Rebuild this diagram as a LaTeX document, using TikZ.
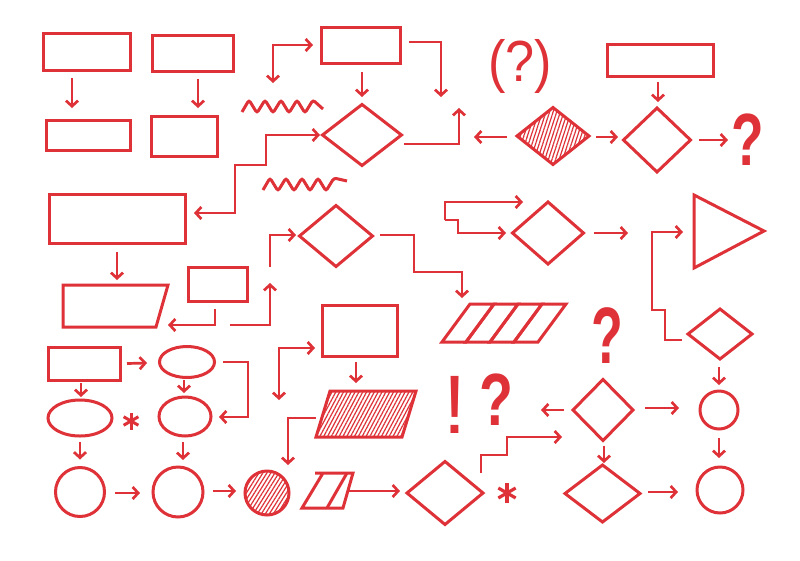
\documentclass[tikz,border=0pt]{standalone}
\usepackage{fontspec}
\newfontfamily\qfont{Liberation Sans}
\usetikzlibrary{shapes.geometric,arrows.meta,calc,patterns.meta}
\definecolor{rd}{RGB}{222,50,56}
\tikzset{
  shp/.style={draw=rd, line width=3pt, inner sep=0pt, outer sep=0pt},
  dia/.style={shp, diamond},
  ell/.style={shp, ellipse},
  circ/.style={shp, circle},
  con/.style={draw=rd, line width=2.7pt},
  arr/.style={con, -{Straight Barb[length=5.5pt,width=12pt]}},
  darr/.style={con, {Straight Barb[length=5.5pt,width=12pt]}-{Straight Barb[length=5.5pt,width=12pt]}},
  hatch/.style={pattern={Lines[angle=#1,distance=3.4pt,line width=1.2pt]}, pattern color=rd},
  mk/.style={text=rd, inner sep=0pt, outer sep=0pt},
  zig/.style={con, line width=3pt, rounded corners=2.5pt}
}
\begin{document}
\begin{tikzpicture}[x=1pt,y=-1pt]
\useasboundingbox[fill=white] (0,0) rectangle (800,560);
% ---------- nodes ----------
\node[shp, minimum width=87pt, minimum height=37pt] (A) at (86.5,51.5) {};
\node[shp, minimum width=81pt, minimum height=36pt] (B) at (192.5,53) {};
\node[shp, minimum width=84pt, minimum height=30pt] (C) at (88,135) {};
\node[shp, minimum width=66pt, minimum height=40pt] (D) at (184,136) {};
\node[shp, minimum width=79pt, minimum height=36pt] (E) at (360.5,45) {};
\node[dia, minimum width=79pt, minimum height=61pt] (F) at (362,135) {};
\node[shp, minimum width=106pt, minimum height=32pt] (G) at (660,60) {};
\node[dia, minimum width=67pt, minimum height=64pt] (H) at (657,140) {};
\node[dia, hatch=72, minimum width=72pt, minimum height=57pt] (I) at (553,136) {};
\node[shp, minimum width=136pt, minimum height=49pt] (J) at (117,218.5) {};
\node[shp, minimum width=59pt, minimum height=34pt] (L) at (217.5,284) {};
\node[dia, minimum width=73pt, minimum height=61pt] (M) at (336,236) {};
\node[shp, minimum width=75pt, minimum height=51pt] (N) at (359.5,330.5) {};
\node[dia, minimum width=71pt, minimum height=62pt] (O) at (548,233) {};
\node[dia, minimum width=64pt, minimum height=50pt] (Q) at (720,334) {};
\node[shp, minimum width=72pt, minimum height=33pt] (S) at (84,363.5) {};
\node[ell, minimum width=55pt, minimum height=31pt] (T) at (187,362) {};
\node[ell, minimum width=64pt, minimum height=36pt] (U) at (80,418) {};
\node[ell, minimum width=52pt, minimum height=39pt] (V) at (185,416.5) {};
\node[circ, minimum size=49pt] (W) at (80,492) {};
\node[circ, minimum size=50pt] (X) at (178,492) {};
\node[circ, hatch=58, minimum size=44pt] (Y) at (267,493) {};
\node[dia, minimum width=60pt, minimum height=61pt] (AA) at (603,410) {};
\node[circ, minimum size=38pt] (AB) at (719,410) {};
\node[circ, minimum size=46pt] (AC) at (720,490) {};
\node[dia, minimum width=75pt, minimum height=57pt] (AD) at (602.5,493.5) {};
\node[dia, minimum width=76pt, minimum height=63pt] (AE) at (445,493) {};
% polygon shapes
\coordinate (K) at (112,306);
\draw[shp, line join=miter] (63,285) -- (168,285) -- (156,327) -- (63,327) -- cycle;
\coordinate (P) at (717,231);
\draw[shp, line join=miter] (694,195) -- (764,231) -- (694,268) -- cycle;
\coordinate (R) at (504,323);
\foreach \b in {442,466,490,514}{
  \draw[shp] (\b,342) -- (\b+24,342) -- (\b+52,304) -- (\b+28,304) -- cycle;
}
\coordinate (Z) at (366,414);
\draw[shp, hatch=62] (330,391) -- (416,391) -- (402,437) -- (316,437) -- cycle;
\coordinate (ZZ) at (328,490);
\draw[shp] (315,473) -- (353,473) -- (343,508) -- (302,508) -- (323,473);
\draw[shp] (327,508) -- (347,473);
% ---------- text marks ----------
\node[mk, font=\qfont\fontsize{58}{58}\selectfont] (paren) at (520,66) {\scalebox{0.9}[1]{(?)}};
\node[mk, font=\qfont\bfseries\fontsize{74}{74}\selectfont] (q1) at (748,140) {\scalebox{0.72}[1]{?}};
\node[mk, font=\qfont\bfseries\fontsize{80}{80}\selectfont] (q2) at (607,336) {\scalebox{0.65}[1]{?}};
\node[mk, font=\qfont\bfseries\fontsize{74}{74}\selectfont] (q3) at (496,400) {\scalebox{0.75}[1]{?}};
\node[mk, font=\qfont\fontsize{83}{83}\selectfont] (ex) at (455,405) {!};
\coordinate (st1) at (131,421);
\coordinate (st2) at (507,493);
\foreach \a in {90,30,150}{
  \draw[con, line width=3pt] ($(st1)+(\a:8.5)$) -- ($(st1)+(\a+180:8.5)$);
  \draw[con, line width=3.2pt] ($(st2)+(\a:10)$) -- ($(st2)+(\a+180:10)$);
}
% zigzags
\draw[zig] (242,112) -- (249,100) -- (257,113) -- (265,100) -- (273,113) -- (281,100) -- (289,113) -- (297,100) -- (305,113) -- (313,100) -- (323,109);
\draw[zig] (263,190) -- (270,178) -- (278,191) -- (286,178) -- (294,191) -- (302,178) -- (310,191) -- (318,178) -- (326,191) -- (334,178) -- (347,181);
% ---------- connectors ----------
\draw[arr] ($(A.south)+(-14.5,8)$) -- ($(C.north)+(-16,-12)$);
\draw[arr] ($(B.south)+(5.5,8)$) -- ($(D.north)+(14,-8)$);
\draw[darr] ($(E.west)+(-48,38)$) |- ($(E.west)+(-8,0)$);
\draw[arr] ($(E.south)+(1.5,9)$) -- ($(F.north)+(0,-7.5)$);
\coordinate (e5) at (441,97);
\draw[arr] ($(E.east)+(9,-3)$) -| (e5);
\coordinate (e6) at (459,108);
\draw[arr] ($(F.east)+(2.5,9)$) -| (e6);
\draw[darr] ($(J.east)+(9,-5.5)$) -- (235,213) -- (235,165) -- (266,165) -- (266,135) -- ($(F.west)+(-2.5,0)$);
\coordinate (e8) at (474,137);
\draw[arr] ($(I.west)+(-10,1)$) -- (e8);
\draw[arr] ($(I.east)+(7,1)$) -- ($(H.west)+(-5.5,-3)$);
\draw[arr] ($(H.east)+(8.5,0)$) -- ($(q1)+(-20,0)$);
\draw[arr] ($(G.south)+(-2,6)$) -- ($(H.north)+(1,-6)$);
\draw[arr] ($(J.south)+(0,9)$) -- ($(K)+(5,-26)$);
\draw[arr] ($(L.south)+(-2.5,8)$) |- ($(K)+(56,19)$);
\draw[arr] ($(L.south)+(12.5,24)$) -| ($(L.south)+(52.5,-18)$);
\draw[arr] ($(L.east)+(23,-17)$) |- ($(M.west)+(-3.5,-1)$);
\draw[arr] ($(M.east)+(7.5,-1)$) -- (414,235) -- (414,272) -- (462,272) -- ($(R)+(-42,-25)$);
\coordinate (s17) at (445,220);
\draw[arr] (s17) |- ($(O.north)+(-25,0)$);
\draw[arr] (s17) -- (458,220) -- (458,233) -- ($(O.west)+(-6.5,0)$);
\coordinate (e18) at (628,233);
\draw[arr] ($(O.east)+(10.5,0)$) -- (e18);
\draw[arr] ($(Q.west)+(-6,6)$) -- (665,340) -- (665,310) -- (652,310) |- ($(P)+(-34,1)$);
\draw[arr] ($(Q.south)+(-1,8)$) -- ($(AB.north)+(0,-6)$);
\draw[arr] ($(AB.south)+(0,9)$) -- ($(AC.north)+(-1,-9)$);
\coordinate (e22) at (541,410);
\draw[arr] ($(AA.west)+(-9,0)$) -- (e22);
\draw[arr] ($(AA.east)+(12,-2)$) -- ($(AB.west)+(-21,-2)$);
\draw[arr] ($(AA.south)+(1,5)$) -- ($(AD.north)+(1.5,-2)$);
\draw[arr] ($(AD.east)+(8,-1.5)$) -- ($(AC.west)+(-19,2)$);
\draw[arr] ($(AE.east)+(-2,-20)$) -- (481,455) -- (507,455) -- (507,437) -- ($(AA.west)+(-11,27)$);
\draw[arr] ($(S.east)+(7,0)$) -- ($(T.west)+(-12.5,1)$);
\draw[arr] ($(S.south)+(-3,3)$) -- ($(U.north)+(1,-3)$);
\draw[arr] ($(T.south)+(-3,2.5)$) -- ($(V.north)+(-1,-4)$);
\draw[arr] ($(T.east)+(8.5,0)$) -- (248,362) |- ($(V.east)+(8,0.5)$);
\draw[arr] ($(U.south)+(0,6)$) -- ($(W.north)+(0,-8)$);
\draw[arr] ($(V.south)+(-2,6)$) -- ($(X.north)+(5,-7)$);
\draw[arr] ($(W.east)+(10.5,1)$) -- ($(X.west)+(-13,1)$);
\draw[arr] ($(X.east)+(10,-1)$) -- ($(Y.west)+(-9,-2)$);
\draw[arr] ($(Z)+(-50,4)$) -| ($(Y.north)+(21,-6)$);
\draw[arr] ($(N.south)+(-3.5,6)$) -- ($(Z)+(-10,-31)$);
\coordinate (s37) at (279,400);
\draw[darr] (s37) |- ($(N.west)+(-7,17.5)$);
\draw[arr] ($(ZZ)+(20,1)$) -- ($(AE.west)+(-7,-2)$);
\end{tikzpicture}
\end{document}
